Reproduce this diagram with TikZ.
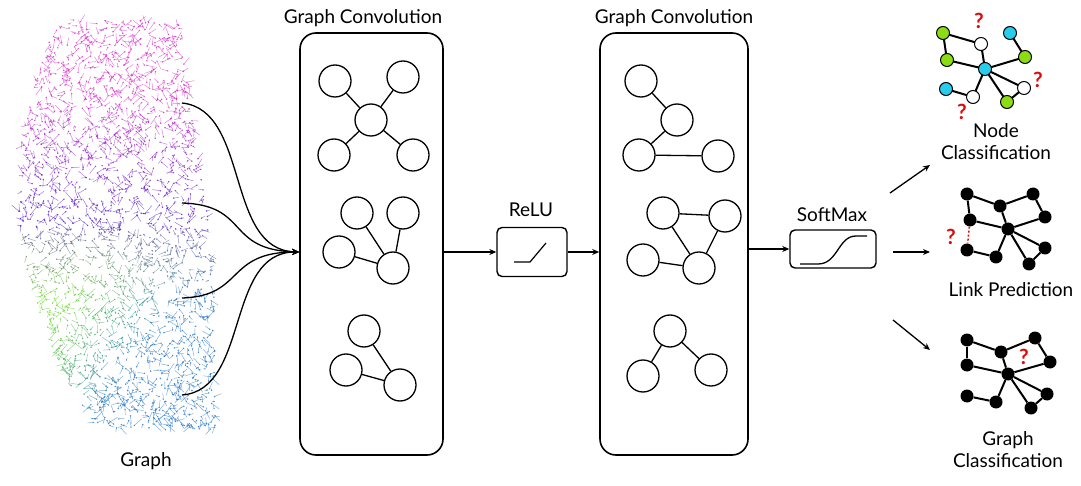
\documentclass[tikz,border=0pt]{standalone}
\usepackage{fontspec}
\setmainfont{Lato}
\usetikzlibrary{arrows.meta,calc,backgrounds}
\definecolor{gmag}{RGB}{214,50,200}
\definecolor{gpur}{RGB}{80,30,200}
\definecolor{ggrn}{RGB}{100,215,40}
\definecolor{gblu}{RGB}{40,120,200}
\definecolor{ncyan}{RGB}{40,205,235}
\definecolor{ngreen}{RGB}{140,220,20}
\definecolor{qred}{RGB}{225,10,10}
\tikzset{
  gc/.style={circle, draw, line width=1.3pt, minimum size=32pt, inner sep=0pt, fill=white},
  ge/.style={line width=1.3pt},
  pbox/.style={draw, line width=1.6pt, rounded corners=16pt},
  sbox/.style={draw, line width=1.4pt, rounded corners=5pt},
  lbl/.style={font=\fontsize{19}{22}\selectfont, align=center},
  arr/.style={-{Stealth[length=7pt,width=6pt]}, line width=1.3pt},
  bn/.style={circle, fill=black, minimum size=13pt, inner sep=0pt},
  cn/.style={circle, draw, line width=1pt, minimum size=13pt, inner sep=0pt},
  qm/.style={text=qred, font=\bfseries\fontsize{21}{21}\selectfont, inner sep=0pt},
  se/.style={line width=2pt}
}
\begin{document}
\begin{tikzpicture}[x=1pt,y=-1pt]
\useasboundingbox (0,0) rectangle (1081,486);

% graph cloud
\pgfmathsetseed{7}
\foreach \i in {1,...,2200}{
  \pgfmathsetmacro\yy{20+rnd*410}
  \pgfmathsetmacro\xl{18+55*((\yy-190)/200)^2}
  \pgfmathsetmacro\xr{180+35*min(1,(\yy-20)/250)}
  \pgfmathsetmacro\xx{\xl+rnd*(\xr-\xl)}
  \pgfmathsetmacro\pa{max(0,min(100,(220-\yy)*0.8))}
  \pgfmathsetmacro\pb{max(0,min(100,(\yy-220)*1.6))}
  \pgfmathsetmacro\pc{max(0,min(100,100-(\xx-60)*0.9-(\yy-310)*0.6))}
  \ifdim\yy pt<230pt
    \colorlet{cc}{gmag!\pa!gpur}
  \else
    \colorlet{cc}{ggrn!\pc!gblu}
    \ifdim\yy pt<290pt \colorlet{cc}{cc!\pb!gpur!70!gray}\fi
  \fi
  \draw[cc, opacity=0.6, line width=0.5pt] (\xx,\yy) -- ++(rnd*16-8,rnd*16-8);
  \fill[cc, opacity=0.8] (\xx,\yy) circle (0.8pt);
}
\node[lbl] (glab) at (146,461) {Graph};

% boxes
\node[pbox, minimum width=143pt, minimum height=422pt] (b1) at (371.5,244) {};
\node[pbox, minimum width=148pt, minimum height=422pt] (b2) at (674,244) {};
\node[lbl] (t1) at (363,18) {Graph Convolution};
\node[lbl] (t2) at (674,18) {Graph Convolution};
\node[sbox, minimum width=70pt, minimum height=49pt] (relu) at (532,252) {};
\node[lbl] (rl) at (531,210) {ReLU};
\node[sbox, minimum width=86pt, minimum height=38pt] (soft) at (833,249) {};
\node[lbl] (sl) at (832,215) {SoftMax};

% inputs
\coordinate (in) at (b1.west |- 0,252);
\coordinate (s1) at (182,103);
\coordinate (s2) at (182,203);
\coordinate (s3) at (182,298);
\coordinate (s4) at (182,395);
\draw[arr] (s1) .. controls (250,110) and (225,250) .. (in);
\draw[arr] (s2) .. controls (250,205) and (225,250) .. (in);
\draw[arr] (s3) .. controls (245,296) and (225,252) .. (in);
\draw[arr] (s4) .. controls (250,390) and (225,252) .. (in);

% flow
\draw[arr] (b1.east |- relu) -- (relu.west);
\draw[arr] (relu.east) -- (b2.west |- relu);
\draw[arr] (b2.east |- soft) -- (soft.west);
\draw[line width=1.2pt] (514,262) -- (530,262) -- (546,243);
\draw[line width=1.3pt] (800,264) -- (818,264) .. controls (838,264) and (838,236) .. (856,236) -- (867,236);

% box 1 graphs
\node[gc] (a1) at (335,81) {};
\node[gc] (a2) at (403,77) {};
\node[gc] (a3) at (371,120) {};
\node[gc] (a4) at (334,155) {};
\node[gc] (a5) at (413,155) {};
\foreach \n in {a1,a2,a4,a5} \draw[ge] (a3) -- (\n);
\node[gc] (b1a) at (357,213) {};
\node[gc] (b1b) at (403,213) {};
\node[gc] (b1c) at (339,252) {};
\node[gc] (b1d) at (393,268) {};
\foreach \n in {b1a,b1b,b1c} \draw[ge] (b1d) -- (\n);
\node[gc] (c1a) at (364,331) {};
\node[gc] (c1b) at (346,370) {};
\node[gc] (c1c) at (400,385) {};
\draw[ge] (c1c) -- (c1a);
\draw[ge] (c1c) -- (c1b);

% box 2 graphs
\node[gc] (d1) at (641,81) {};
\node[gc] (d2) at (677,120) {};
\node[gc] (d3) at (639,155) {};
\node[gc] (d4) at (718,156) {};
\draw[ge] (d1) -- (d2); \draw[ge] (d2) -- (d3); \draw[ge] (d3) -- (d4);
\node[gc] (e1) at (663,213) {};
\node[gc] (e2) at (725,216) {};
\node[gc] (e3) at (643,260) {};
\node[gc] (e4) at (699,268) {};
\draw[ge] (e1) -- (e2); \draw[ge] (e1) -- (e4); \draw[ge] (e2) -- (e4); \draw[ge] (e3) -- (e4);
\node[gc] (f1) at (670,331) {};
\node[gc] (f2) at (643,376) {};
\node[gc] (f3) at (711,370) {};
\draw[ge] (f1) -- (f2); \draw[ge] (f1) -- (f3);

% output arrows
\coordinate (o1a) at (890,193); \coordinate (o1b) at (930,165);
\coordinate (o2a) at (893,252); \coordinate (o2b) at (930,252);
\coordinate (o3a) at (893,320); \coordinate (o3b) at (930,350);
\draw[arr] (o1a) -- (o1b);
\draw[arr] (o2a) -- (o2b);
\draw[arr] (o3a) -- (o3b);

% node classification
\node[cn, fill=ngreen] (n1) at (943,33) {};
\node[cn, fill=white] (n2) at (981,44) {};
\node[cn, fill=ncyan] (n3) at (1010,33) {};
\node[cn, fill=ngreen] (n4) at (947,60) {};
\node[cn, fill=ncyan] (n5) at (985,69) {};
\node[cn, fill=ngreen] (n6) at (1025,57) {};
\node[cn, fill=ncyan] (n7) at (946,89) {};
\node[cn, fill=white] (n8) at (973,97) {};
\node[cn, fill=white] (n9) at (1024,88) {};
\node[cn, fill=ngreen] (n10) at (1007,102) {};
\begin{scope}[on background layer]
\foreach \a/\b in {n1/n2,n2/n5,n3/n6,n1/n4,n4/n5,n5/n6,n5/n8,n8/n7,n5/n9,n5/n10,n10/n9}
  \draw[se] (\a.center) -- (\b.center);
\end{scope}
\node[qm] (q1) at (979,21) {?};
\node[qm] (q2) at (1038,80) {?};
\node[qm] (q3) at (962,112) {?};
\node[lbl] (nl) at (996,142) {Node\\Classification};

% link prediction
\node[bn] (l1) at (967,194) {};
\node[bn] (l2) at (1000,206) {};
\node[bn] (l3) at (1033,194) {};
\node[bn] (l4) at (970,220) {};
\node[bn] (l5) at (1008,229) {};
\node[bn] (l6) at (1045,217) {};
\node[bn] (l7) at (967,250) {};
\node[bn] (l8) at (996,257) {};
\node[bn] (l9) at (1045,248) {};
\node[bn] (l10) at (1029,264) {};
\foreach \a/\b in {l1/l2,l2/l3,l3/l6,l1/l4,l4/l5,l2/l5,l5/l6,l5/l9,l5/l10,l9/l10,l5/l8,l8/l7}
  \draw[se] (\a) -- (\b);
\draw[qred, line width=1.5pt, dash pattern=on 2pt off 2pt] (l4) -- (l7);
\node[qm] (q4) at (951,237) {?};
\node[lbl] (ll) at (1011,290) {Link Prediction};

% graph classification
\node[bn] (g1) at (967,340) {};
\node[bn] (g2) at (1001,352) {};
\node[bn] (g3) at (1035,338) {};
\node[bn] (g4) at (967,365) {};
\node[bn] (g5) at (1008,374) {};
\node[bn] (g6) at (1050,362) {};
\node[bn] (g7) at (967,396) {};
\node[bn] (g8) at (996,402) {};
\node[bn] (g9) at (1047,394) {};
\node[bn] (g10) at (1031,408) {};
\foreach \a/\b in {g1/g2,g2/g3,g3/g6,g1/g4,g4/g5,g2/g5,g5/g6,g5/g9,g5/g10,g9/g10,g5/g8,g8/g7}
  \draw[se] (\a) -- (\b);
\node[qm] (q5) at (1024,357) {?};
\node[lbl] (gl) at (1008,450) {Graph\\Classification};
\end{tikzpicture}
\end{document}
